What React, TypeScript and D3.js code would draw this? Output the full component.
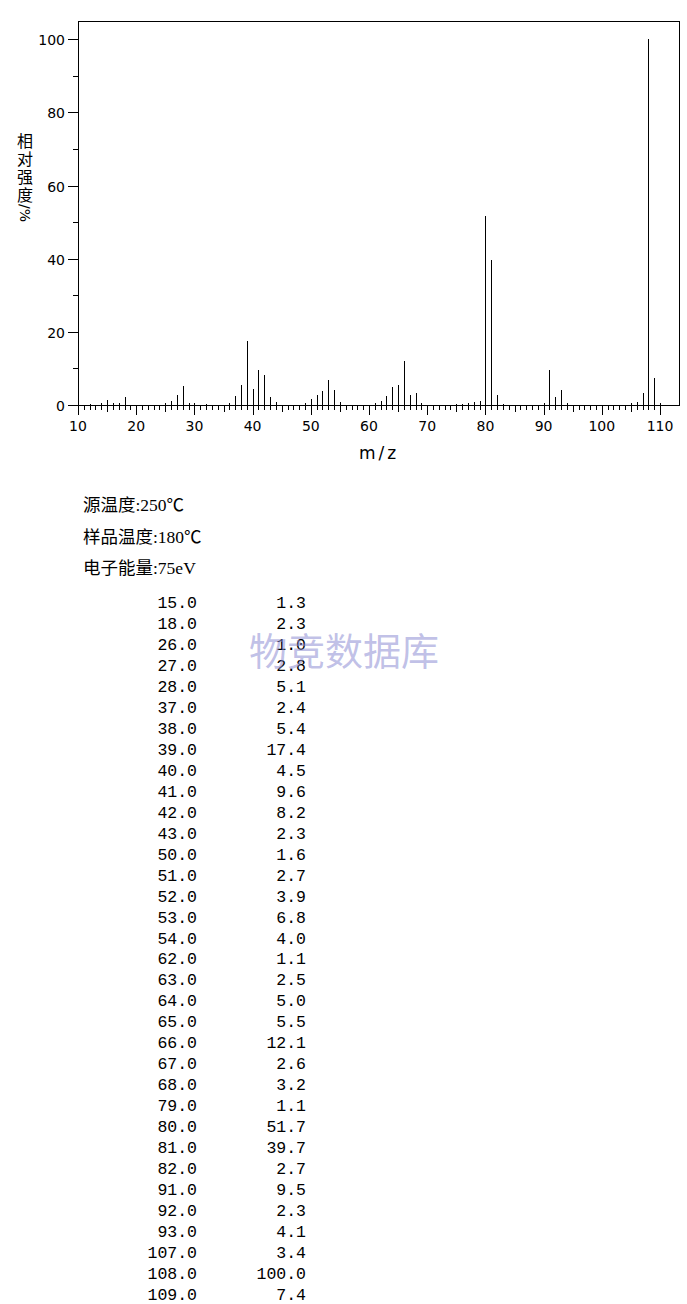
import React from "react";
import * as d3 from "d3";

// m/z of every peak drawn in the spectrum
const peakMz = [
  12, 14, 15, 16, 17, 18, 25, 26, 27, 28, 29, 30, 32, 36, 37, 38, 39, 40, 41, 42, 43, 44,
  49, 50, 51, 52, 53, 54, 55, 61, 62, 63, 64, 65, 66, 67, 68, 69, 75, 76, 77, 78, 79, 80,
  81, 82, 83, 90, 91, 92, 93, 94, 105, 106, 107, 108, 109, 110,
];
// relative intensity (%) of each peak
const peakIntensity = [
  0.4, 0.5, 1.3, 0.5, 0.6, 2.3, 0.5, 1.0, 2.8, 5.1, 0.6, 0.5, 0.4, 0.6, 2.4, 5.4, 17.4, 4.5, 9.6, 8.2, 2.3, 0.7,
  0.5, 1.6, 2.7, 3.9, 6.8, 4.0, 0.8, 0.6, 1.1, 2.5, 5.0, 5.5, 12.1, 2.6, 3.2, 0.5, 0.3, 0.4, 0.6, 0.8, 1.1, 51.7,
  39.7, 2.7, 0.4, 0.6, 9.5, 2.3, 4.1, 0.5, 0.5, 0.8, 3.4, 100.0, 7.4, 0.5,
];

const yTickValues = [0, 20, 40, 60, 80, 100];
const yMinorValues = [10, 30, 50, 70, 90];
const xTickLabels = [10, 20, 30, 40, 50, 60, 70, 80, 90, 100, 110];

const conditionLines = ["源温度:250℃", "样品温度:180℃", "电子能量:75eV"];
const yAxisTitleCjk = ["相", "对", "强", "度"];
const yAxisTitleUnit = "/%";
const xAxisTitle = "m/z";
const watermark = "物竞数据库";

export default function App() {
  const left = 78, right = 679, top = 21, bottom = 405;
  const x = d3.scaleLinear().domain([10, 113.26]).range([left, right]);
  const y = d3.scaleLinear().domain([0, 105]).range([bottom, top]);
  const unitTicks = d3.range(10, 111, 1);
  const chartFont = "'DejaVu Sans', sans-serif";
  const monoFont = "'Liberation Mono', 'DejaVu Sans Mono', monospace";
  const serifFont = "'Liberation Serif', 'Noto Sans CJK SC', serif";
  const cjkFont = "'Noto Sans CJK SC', sans-serif";

  const rows = peakMz
    .map((m, i) => ({ m, v: peakIntensity[i] }))
    .filter((d) => d.v >= 1.0);

  return (
    <svg
      width={687}
      height={1304}
      style={{ position: "absolute", left: 0, top: 0, background: "#fff" }}
      shapeRendering="crispEdges"
    >
      <rect x={0} y={0} width={687} height={1304} fill="#fff" />
      {/* peaks */}
      {peakMz.map((m, i) => (
        <line
          key={"p" + i}
          x1={Math.round(x(m)) + 0.5}
          x2={Math.round(x(m)) + 0.5}
          y1={y(0)}
          y2={y(peakIntensity[i])}
          stroke="#000"
          strokeWidth={1}
        />
      ))}
      {/* frame */}
      <rect x={left + 0.5} y={top + 0.5} width={right - left} height={bottom - top} fill="none" stroke="#000" strokeWidth={1} />
      {/* x ticks */}
      {unitTicks.map((t) => {
        const len = t % 10 === 0 ? 10 : t % 5 === 0 ? 7 : 5;
        const px = Math.round(x(t)) + 0.5;
        return <line key={"xt" + t} x1={px} x2={px} y1={bottom} y2={bottom + len} stroke="#000" />;
      })}
      {xTickLabels.map((t) => (
        <text key={"xl" + t} x={x(t)} y={431} textAnchor="middle" fontFamily={chartFont} fontSize={14} fill="#000">
          {t}
        </text>
      ))}
      <text x={379} y={459} textAnchor="middle" fontFamily={chartFont} fontSize={17} letterSpacing={3} fill="#000">
        {xAxisTitle}
      </text>
      {/* y ticks */}
      {yTickValues.map((t) => {
        const py = Math.round(y(t)) + 0.5;
        return (
          <g key={"yt" + t}>
            <line x1={left - 10} x2={left} y1={py} y2={py} stroke="#000" />
            <text x={65} y={py + 5} textAnchor="end" fontFamily={chartFont} fontSize={14} fill="#000">
              {t}
            </text>
          </g>
        );
      })}
      {yMinorValues.map((t) => {
        const py = Math.round(y(t)) + 0.5;
        return <line key={"ym" + t} x1={left - 5} x2={left} y1={py} y2={py} stroke="#000" />;
      })}
      {/* y axis title, stacked vertically */}
      {yAxisTitleCjk.map((c, i) => (
        <text
          key={"ya" + i}
          x={25}
          y={140 + i * 18}
          textAnchor="middle"
          dominantBaseline="central"
          fontFamily={cjkFont}
          fontSize={16}
          fill="#000"
        >
          {c}
        </text>
      ))}
      <text
        transform="translate(25,204) rotate(90)"
        x={0}
        y={0}
        dominantBaseline="central"
        fontFamily={chartFont}
        fontSize={14}
        fill="#000"
      >
        {yAxisTitleUnit}
      </text>
      {/* condition lines */}
      {conditionLines.map((s, i) => (
        <text key={"c" + i} x={83} y={511 + i * 31.5} fontFamily={serifFont} fontSize={17.5} fill="#000">
          {s}
        </text>
      ))}
      {/* table */}
      {rows.map((r, i) => (
        <g key={"r" + i}>
          <text x={197} y={608 + i * 20.97} textAnchor="end" fontFamily={monoFont} fontSize={16.5} fill="#000">
            {r.m.toFixed(1)}
          </text>
          <text x={306} y={608 + i * 20.97} textAnchor="end" fontFamily={monoFont} fontSize={16.5} fill="#000">
            {r.v.toFixed(1)}
          </text>
        </g>
      ))}
      <text
        x={344}
        y={665}
        textAnchor="middle"
        fontFamily={cjkFont}
        fontSize={38}
        fill="rgb(140,140,210)"
        fillOpacity={0.55}
      >
        {watermark}
      </text>
    </svg>
  );
}
